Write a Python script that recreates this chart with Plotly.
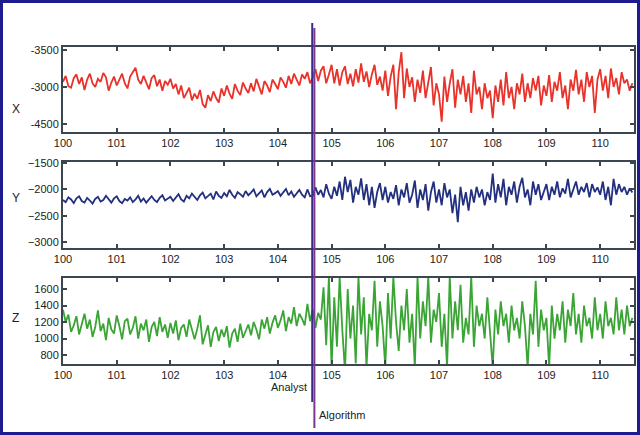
import numpy as np
import plotly.graph_objects as go
from plotly.subplots import make_subplots

# ---- data ----
t_start = 100.0
t_step = 0.05

x_values = [
    -2930, -2850, -2990, -3010, -2880, -2830, -2960, -2870, -3040, -2900,
    -2820, -2950, -3000, -2890, -2930, -2810, -2870, -3050, -2940, -2860,
    -2980, -2900, -2820, -2950, -3020, -2860, -2790, -2740, -2900, -2960,
    -2850, -2930, -3030, -2880, -2840, -2990, -2900, -3050, -2920, -2970,
    -2890, -3020, -2960, -3100, -2980, -3150, -3070, -3010, -3180, -3090,
    -3160, -3040, -3230, -3280, -3110, -3190, -3060, -3150, -3210, -3020,
    -3120, -2980, -3090, -3160, -2960, -3050, -3110, -2940, -3020, -3080,
    -2950, -3060, -2890, -3010, -3100, -2920, -2980, -3070, -2900, -2960,
    -3030, -2870, -2930, -3010, -2850, -2960, -2820, -2900, -2980, -2830,
    -2890, -2800, -2950, -2870, -2760, -2920, -2780, -2720, -2950, -2830,
    -2700, -2950, -2760, -2980, -2800, -2720, -2960, -2820, -2990, -2760,
    -2940, -2680, -2930, -2790, -3000, -2830, -2700, -2970, -2860, -3050,
    -2780, -3120, -2860, -2700, -3300, -2800, -2530, -3150, -2750, -3000,
    -2870, -3200, -2900, -3080, -2780, -3150, -2950, -2730, -3250, -2950,
    -3100, -3470, -2860, -3200, -2950, -2760, -3280, -2900, -3100, -2850,
    -3200, -2950, -3350, -2780, -3100, -3000, -3300, -2950, -3150, -3050,
    -3420, -2980, -3200, -2900, -3250, -2800, -3150, -3000, -3300, -2950,
    -3100, -2820, -3200, -2950, -3150, -2880, -3050, -2850, -3250, -2980,
    -3120, -2840, -3200, -2930, -3050, -2800, -3150, -2980, -3300, -2900,
    -3050, -2770, -3100, -2900, -3200, -2800, -3000, -2850, -3350, -2900,
    -2760, -3050, -2850, -3150, -2750, -3000, -2880, -3100, -2800, -2950,
    -2900, -3050, -2950,
]

y_values = [
    -2200, -2240, -2150, -2190, -2260, -2170, -2130, -2220, -2250, -2160,
    -2210, -2270, -2180, -2140, -2230, -2200, -2120, -2190, -2250, -2170,
    -2130, -2220, -2260, -2180, -2210, -2150, -2240, -2190, -2120, -2230,
    -2170, -2250, -2190, -2130, -2200, -2240, -2160, -2110, -2210, -2180,
    -2140, -2220, -2160, -2090, -2190, -2230, -2120, -2170, -2080, -2150,
    -2200, -2110, -2060, -2170, -2130, -2080, -2190, -2040, -2120, -2160,
    -2070, -2130, -2010, -2100, -2160, -2050, -2090, -2140, -2030, -2110,
    -2060, -2000, -2130, -2080, -2020, -2150, -2050, -1990, -2100, -2070,
    -2030, -2120, -2060, -1990, -2110, -2040, -2140, -2070, -2010, -2100,
    -2150, -2000, -2130, -2120, -1960, -2100, -2010, -2150, -1900, -2080,
    -2180, -1950, -2120, -1850, -2200, -1760, -2050, -1820, -2250, -1950,
    -2100, -1790, -2200, -1900, -2300, -1950, -2350, -2050, -1880, -2200,
    -1950, -2250, -2050, -2180, -1920, -2300, -2000, -2150, -1880, -2250,
    -2100, -1830, -2350, -2000, -2200, -1900, -2400, -2050, -1850, -2250,
    -2000, -2300, -1880, -2150, -2000, -2450, -2100, -2620, -1950, -2300,
    -2050, -2400, -2000, -2250, -1950, -2150, -2000, -2300, -2050, -2200,
    -1700, -2250, -1900, -2150, -1800, -2300, -1950, -2100, -1850, -2250,
    -1950, -1780, -2150, -2000, -2300, -1850, -2100, -1900, -2200, -2050,
    -1900, -2200, -1950, -2100, -1850, -2150, -1980, -2080, -1800, -2150,
    -2000, -1850, -2100, -1950, -2050, -1880, -2150, -1900, -2050, -1960,
    -2100, -1850, -2200, -1950, -2300, -1800, -2100, -1900, -2050, -1950,
    -2100, -1980, -2060,
]

z_values = [
    1350, 1200, 1290, 1080, 1160, 1270, 1050, 1190, 1300, 1120,
    1230, 1020, 1140, 1340, 1090, 1180, 980, 1250, 1110, 1060,
    1280, 1150, 990, 1210, 1240, 1050, 1130, 1270, 1000, 1180,
    1100, 1230, 960, 1140, 1200, 1030, 1260, 1080, 1170, 1010,
    1190, 1060, 1220, 980, 1130, 1170, 1020, 1230, 1090, 990,
    1120, 1280, 930, 1050, 1160, 900, 1080, 1140, 970, 1110,
    1020, 1150, 890, 1060, 1120, 960, 1180, 1010, 1090, 1170,
    1040, 1200, 1110, 990, 1230, 1120, 1260, 1060, 1190, 1280,
    1130, 1220, 1340, 1090, 1260, 1180, 1380, 1150, 1300, 1240,
    1160, 1420, 1210, 1350, 1130, 1310, 1230, 1620, 920, 1750,
    650, 1500, 900, 1750, 1100, 600, 1600, 1000, 1400, 700,
    1750, 1050, 1500, 650, 1300, 1100, 1700, 900, 1450, 1150,
    650, 1550, 1000, 1750, 1200, 850, 1400, 1100, 1600, 950,
    1300, 650, 1750, 1000, 1450, 1150, 1750, 950, 1350, 1200,
    1550, 900, 1300, 650, 1750, 1000, 1450, 1100, 1650, 950,
    1250, 1050, 1750, 900, 1400, 1150, 1300, 1000, 1500, 1100,
    650, 1350, 1050, 1450, 1150, 1300, 950, 1400, 1100, 1250,
    1000, 1450, 1150, 650, 1300, 1050, 1700, 900, 1350, 1100,
    1250, 650, 1400, 1000, 1300, 1100, 1450, 950, 1350, 1150,
    1550, 1050, 1300, 950, 1400, 1150, 1250, 1000, 1500, 1100,
    1300, 1000, 1450, 1150, 1250, 1050, 1500, 1100, 1350, 1050,
    1400, 1150, 1250,
]

x_tickvals = [-2500, -3000, -3500]
x_ticktext = ["-3500", "-3000", "-4500"]
y_tickvals = [-1500, -2000, -2500, -3000]
z_tickvals = [800, 1000, 1200, 1400, 1600]
time_ticks = list(range(100, 111))

event_labels = ["Analyst", "Algorithm"]
event_times = [104.64, 104.68]

t = np.round(t_start + t_step * np.arange(len(x_values)), 2)

# ---- figure ----
W, H = 640, 435
fig = make_subplots(rows=3, cols=1)

fig.add_trace(go.Scatter(x=t, y=x_values, mode="lines",
                         line=dict(color="#e8322a", width=1.8)), row=1, col=1)
fig.add_trace(go.Scatter(x=t, y=y_values, mode="lines",
                         line=dict(color="#23307f", width=1.8)), row=2, col=1)
fig.add_trace(go.Scatter(x=t, y=z_values, mode="lines",
                         line=dict(color="#3aa535", width=1.8)), row=3, col=1)

def py(px):
    return 1 - px / H

xdom = [63 / W, 634 / W]
ydoms = [[py(132), py(47)], [py(248), py(162)], [py(364), py(278)]]
yranges = [[-3608, -2460], [-3110, -1480], [692, 1733]]
tickfont = dict(family="Liberation Sans, Arial, sans-serif", size=11, color="#222222")
axis_common = dict(showline=True, linecolor="#3c4650", linewidth=2, mirror="ticks",
                   ticks="inside", ticklen=4, tickwidth=1.5, tickcolor="#3c4650",
                   showgrid=False, zeroline=False, tickfont=tickfont, automargin=False)

for i in range(3):
    xa = "xaxis" if i == 0 else f"xaxis{i+1}"
    ya = "yaxis" if i == 0 else f"yaxis{i+1}"
    fig.layout[xa].update(domain=xdom, range=[100, 110.63], tickvals=time_ticks,
                          **axis_common)
    fig.layout[ya].update(domain=ydoms[i], range=yranges[i], **axis_common)

fig.layout.yaxis.update(tickvals=x_tickvals, ticktext=x_ticktext)
fig.layout.yaxis2.update(tickvals=y_tickvals)
fig.layout.yaxis3.update(tickvals=z_tickvals)

# event lines
line_specs = [("#3b2a8c", py(23), py(402)), ("#7a3a8c", py(28), py(428))]
for tv, (col, y0, y1) in zip(event_times, line_specs):
    fig.add_shape(type="line", xref="x3", yref="paper", x0=tv, x1=tv, y0=y0, y1=y1,
                  line=dict(color=col, width=2))

fig.add_annotation(x=event_times[0], xref="x3", y=py(395), yref="paper",
                   text=event_labels[0], showarrow=False, xanchor="right",
                   xshift=-3, font=tickfont)
fig.add_annotation(x=event_times[1], xref="x3", y=py(423), yref="paper",
                   text=event_labels[1], showarrow=False, xanchor="left",
                   xshift=3, font=tickfont)

# axis names
for name, ypx in zip(["X", "Y", "Z"], [100, 198, 327]):
    fig.add_annotation(x=10 / W, xref="paper", y=py(ypx), yref="paper", text=name,
                       showarrow=False, font=dict(family="Liberation Sans, Arial, sans-serif",
                                                  size=12, color="#222222"))

# outer blue border
fig.add_shape(type="rect", xref="paper", yref="paper", x0=0, x1=1, y0=0, y1=1,
              line=dict(color="#1c1c8e", width=6), layer="above")

fig.update_layout(width=W, height=H, margin=dict(l=0, r=0, t=0, b=0, autoexpand=False),
                  paper_bgcolor="white", plot_bgcolor="white", showlegend=False)

fig.write_html("out.html")
